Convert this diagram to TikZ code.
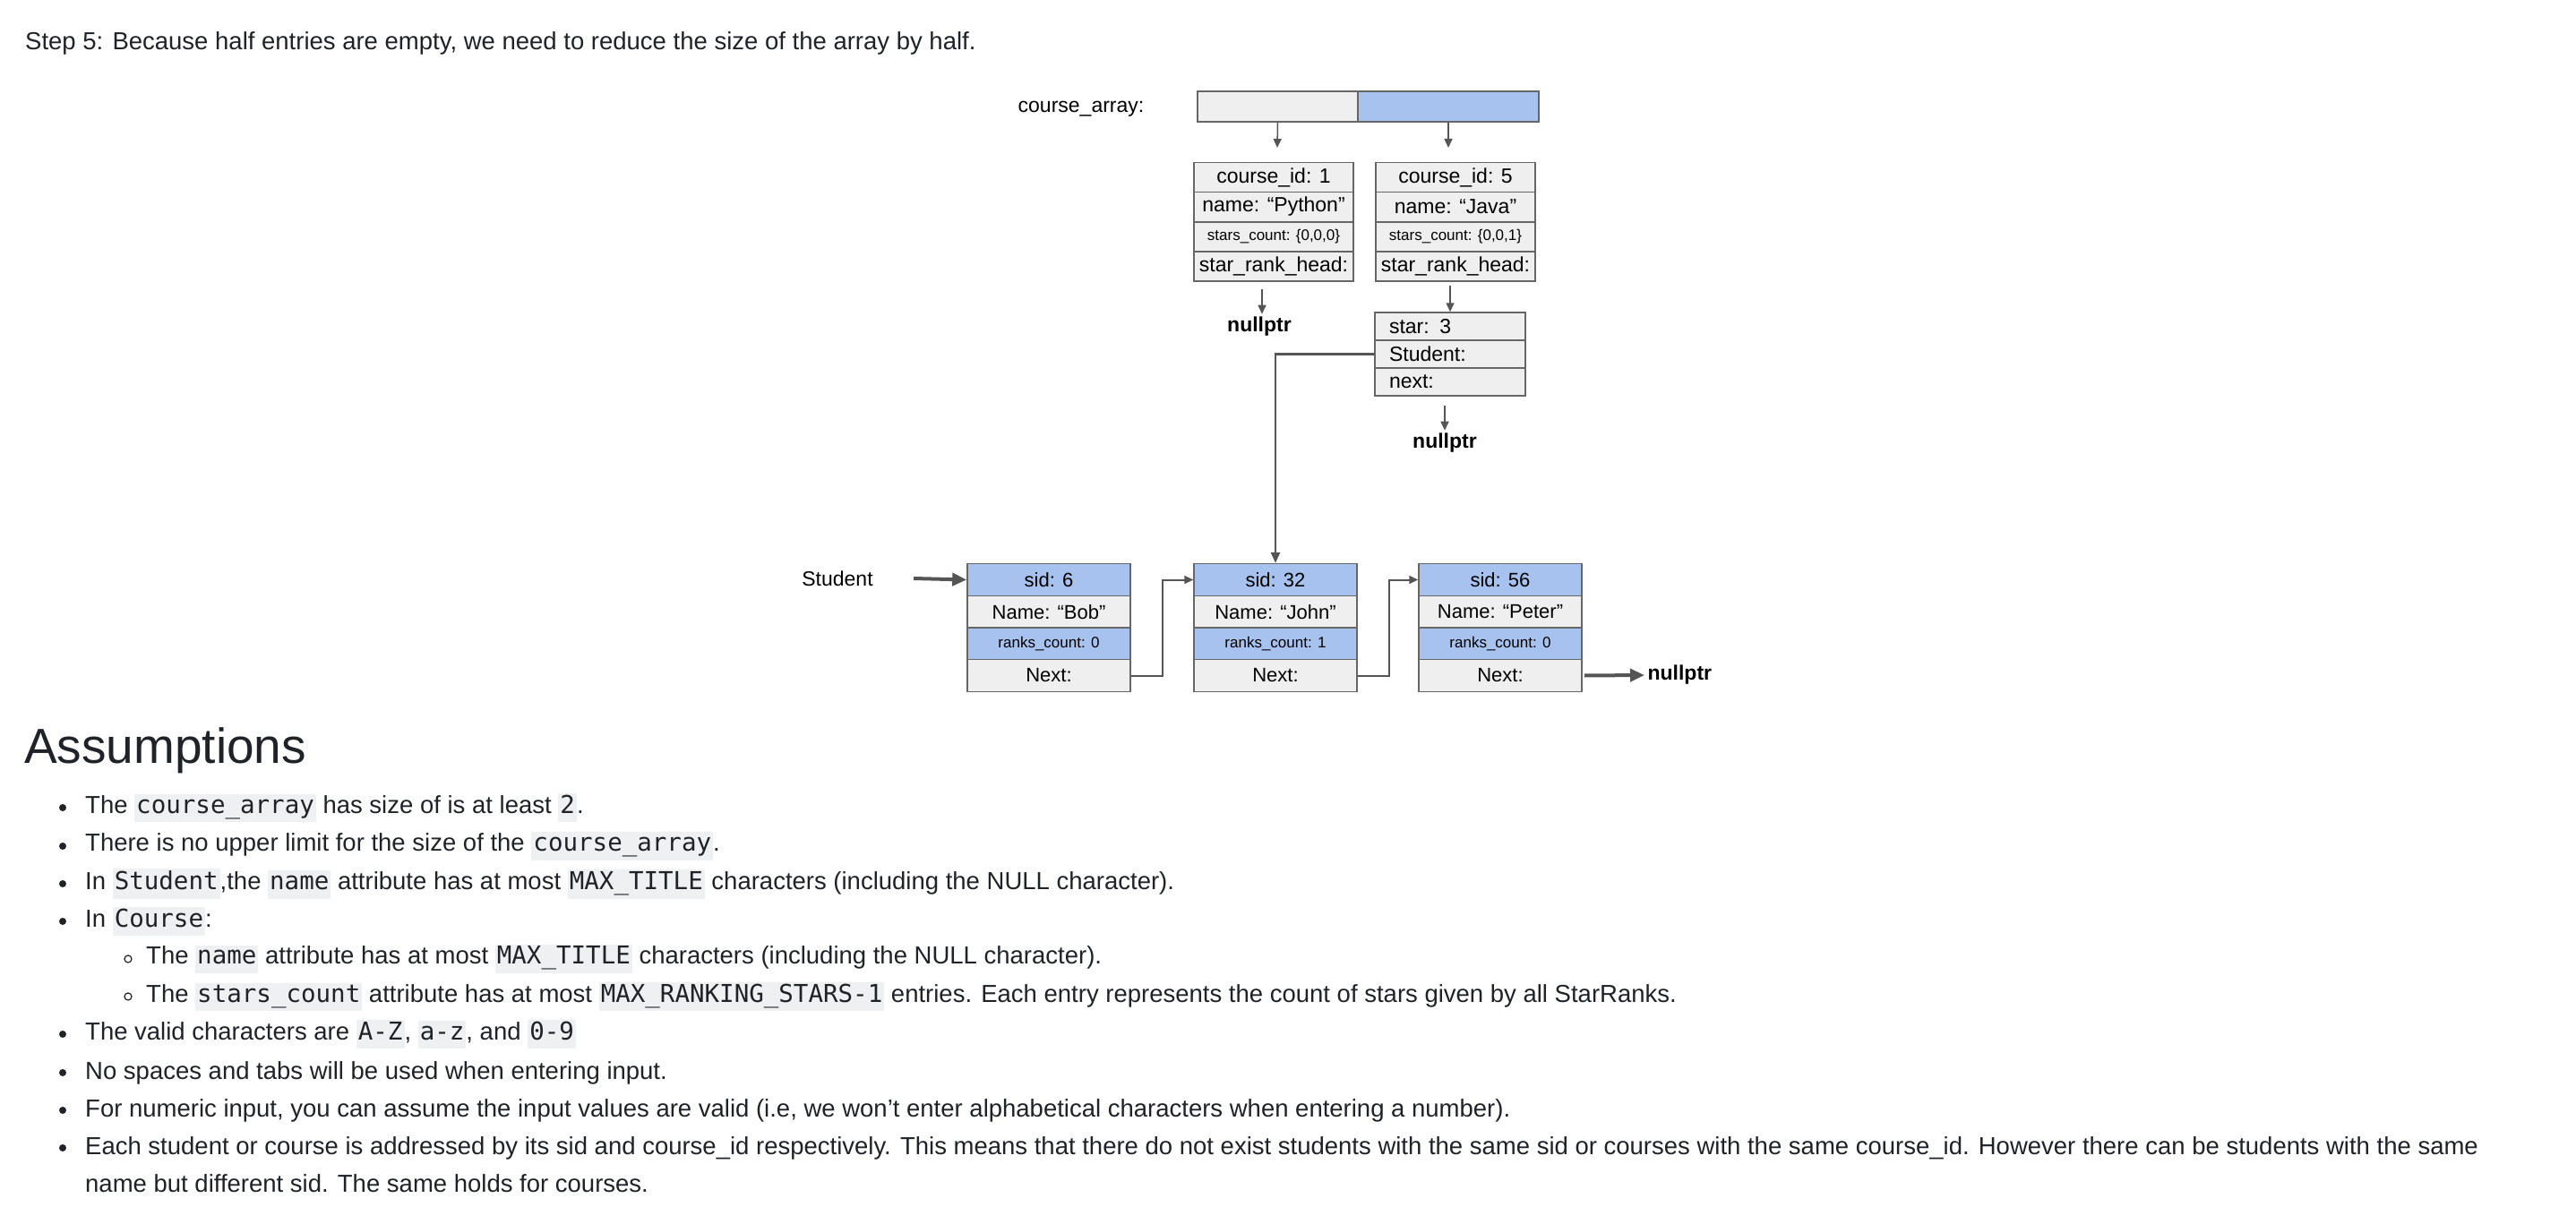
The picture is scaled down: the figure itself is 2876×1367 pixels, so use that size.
\documentclass[tikz,border=0pt]{standalone}
\usepackage{fontspec}
\setmainfont{Liberation Sans}
\setmonofont{DejaVu Sans Mono}
\usetikzlibrary{arrows.meta}
\definecolor{gfill}{HTML}{EFEFEF}
\definecolor{bfill}{HTML}{A8C2EF}
\definecolor{bord}{HTML}{666666}
\definecolor{arr}{HTML}{555555}
\definecolor{codebg}{HTML}{EFF0F1}
\definecolor{txt}{HTML}{1F2328}
\newcommand\cd[1]{{\setlength{\fboxsep}{2pt}\colorbox{codebg}{\ttfamily\strut #1}}}
\newcommand\fsz[1]{\fontsize{#1}{#1}\selectfont}
\begin{document}
\begin{tikzpicture}[x=1pt,y=-1pt,
  cell/.style={draw=bord,line width=1.5,inner sep=0,minimum height=33,minimum width=178,font=\fsz{23}},
  star/.style={cell,minimum width=168,minimum height=31,text width=136,align=left},
  stu/.style={cell,minimum width=182,minimum height=35.7,font=\fsz{22}},
  thin/.style={draw=arr,line width=1.5,-{Triangle[length=10,width=9]}},
  thick/.style={draw=arr,line width=4,-{Triangle[length=16,width=14]}},
  np/.style={font=\bfseries\fsz{23}},
  body/.style={anchor=west,font=\fsz{27.5},text=txt,inner sep=0},
  bul/.style={circle,fill=txt,inner sep=0,minimum size=8},
  sbul/.style={circle,draw=txt,line width=1.2,inner sep=0,minimum size=8}]
\useasboundingbox (0,0) rectangle (2876,1367);
\fill[white] (0,0) rectangle (2876,1367);
\node[body] (step) at (28,48) {Step 5: Because half entries are empty, we need to reduce the size of the array by half.};
% array
\node[font=\fsz{23}] (cal) at (1207,122) {course\_array:};
\node[draw=bord,line width=1.5,fill=gfill,minimum width=179,minimum height=34,inner sep=0] (a0) at (1426.5,119) {};
\node[draw=bord,line width=1.5,fill=bfill,minimum width=202,minimum height=34,inner sep=0] (a1) at (1617,119) {};
\coordinate (a0t) at (1426,165);
\coordinate (a1t) at (1617,165);
\draw[thin] (a0.south) -- (a0t);
\draw[thin] (a1.south) -- (a1t);
% course 1
\node[cell,fill=gfill] (c1a) at (1422,198) {course\_id: 1};
\node[cell,fill=gfill] (c1b) at (1422,231) {name: “Python”};
\node[cell,fill=gfill,font=\fsz{17}] (c1c) at (1422,264.5) {stars\_count: \{0,0,0\}};
\node[cell,fill=gfill] (c1d) at (1422,297.5) {star\_rank\_head:};
% course 2
\node[cell,fill=gfill] (c2a) at (1625,198) {course\_id: 5};
\node[cell,fill=gfill] (c2b) at (1625,231) {name: “Java”};
\node[cell,fill=gfill,font=\fsz{17}] (c2c) at (1625,264.5) {stars\_count: \{0,0,1\}};
\node[cell,fill=gfill] (c2d) at (1625,297.5) {star\_rank\_head:};
% nullptr under course 1
\node[np] (n1) at (1406,365) {nullptr};
\coordinate (n1s) at (1409,323);
\draw[thin] (n1s) -- (n1.north -| n1s);
% star rank node
\node[star,fill=gfill] (s1) at (1619,364.5) {star: 3};
\node[star,fill=gfill] (s2) at (1619,395.5) {Student:};
\node[star,fill=gfill] (s3) at (1619,426.5) {next:};
\draw[thin] (c2d.south -| 1619,0) ++(0,4) -- (s1.north);
\node[np] (n2) at (1613,495) {nullptr};
\coordinate (n2s) at (1613,453);
\draw[thin] (n2s) -- (n2.north);
% students
\node[font=\fsz{23}] (stl) at (935,646) {Student};
\node[stu,fill=bfill] (b1) at (1171,647.5) {sid: 6};
\node[stu,fill=gfill] (b2) at (1171,683.5) {Name: “Bob”};
\node[stu,fill=bfill,font=\fsz{17}] (b3) at (1171,719) {ranks\_count: 0};
\node[stu,fill=gfill] (b4) at (1171,754.5) {Next:};
\node[stu,fill=bfill] (j1) at (1424,647.5) {sid: 32};
\node[stu,fill=gfill] (j2) at (1424,683.5) {Name: “John”};
\node[stu,fill=bfill,font=\fsz{17}] (j3) at (1424,719) {ranks\_count: 1};
\node[stu,fill=gfill] (j4) at (1424,754.5) {Next:};
\node[stu,fill=bfill] (p1) at (1675,647.5) {sid: 56};
\node[stu,fill=gfill] (p2) at (1675,683.5) {Name: “Peter”};
\node[stu,fill=bfill,font=\fsz{17}] (p3) at (1675,719) {ranks\_count: 0};
\node[stu,fill=gfill] (p4) at (1675,754.5) {Next:};
\node[np,anchor=west] (n3) at (1836,754) {nullptr};
\draw[thick] (1020,646) -- (b1.west);
\draw[thick] (p4.east) ++(2,0) -- (n3.west);
\draw[draw=arr,line width=2,-{Triangle[length=10,width=9]}] (b4.east) -- ++(35,0) |- (j1.west);
\draw[draw=arr,line width=2,-{Triangle[length=10,width=9]}] (j4.east) -- ++(35,0) |- (p1.west);
\draw[draw=arr,line width=2.5,-{Triangle[length=12,width=10]}] (s2.west) -| (j1.north);
% assumptions
\node[body,font=\fsz{55}] (ah) at (27,838) {Assumptions};
\foreach \y/\t [count=\i] in {
 902/{The \cd{course\_array} has size of is at least \cd{2}.},
 945/{There is no upper limit for the size of the \cd{course\_array}.},
 987/{In \cd{Student},the \cd{name} attribute has at most \cd{MAX\_TITLE} characters (including the NULL character).},
 1029/{In \cd{Course}:},
 1155/{The valid characters are \cd{A-Z}, \cd{a-z}, and \cd{0-9}},
 1198/{No spaces and tabs will be used when entering input.},
 1240/{For numeric input, you can assume the input values are valid (i.e, we won't enter alphabetical characters when entering a number).},
 1282/{Each student or course is addressed by its sid and course\_id respectively. This means that there do not exist students with the same sid or courses with the same course\_id. However there can be students with the same}}
 {\node[bul] (bu\i) at (70,\y) {}; \node[body] (bt\i) at (95,\y) {\t};}
\node[body] (bt9) at (95,1322) {name but different sid. The same holds for courses.};
\node[sbul] (sb1) at (143,1071) {};
\node[body] (st1) at (163,1071) {The \cd{name} attribute has at most \cd{MAX\_TITLE} characters (including the NULL character).};
\node[sbul] (sb2) at (143,1113) {};
\node[body] (st2) at (163,1113) {The \cd{stars\_count} attribute has at most \cd{MAX\_RANKING\_STARS-1} entries. Each entry represents the count of stars given by all StarRanks.};
\end{tikzpicture}
\end{document}
